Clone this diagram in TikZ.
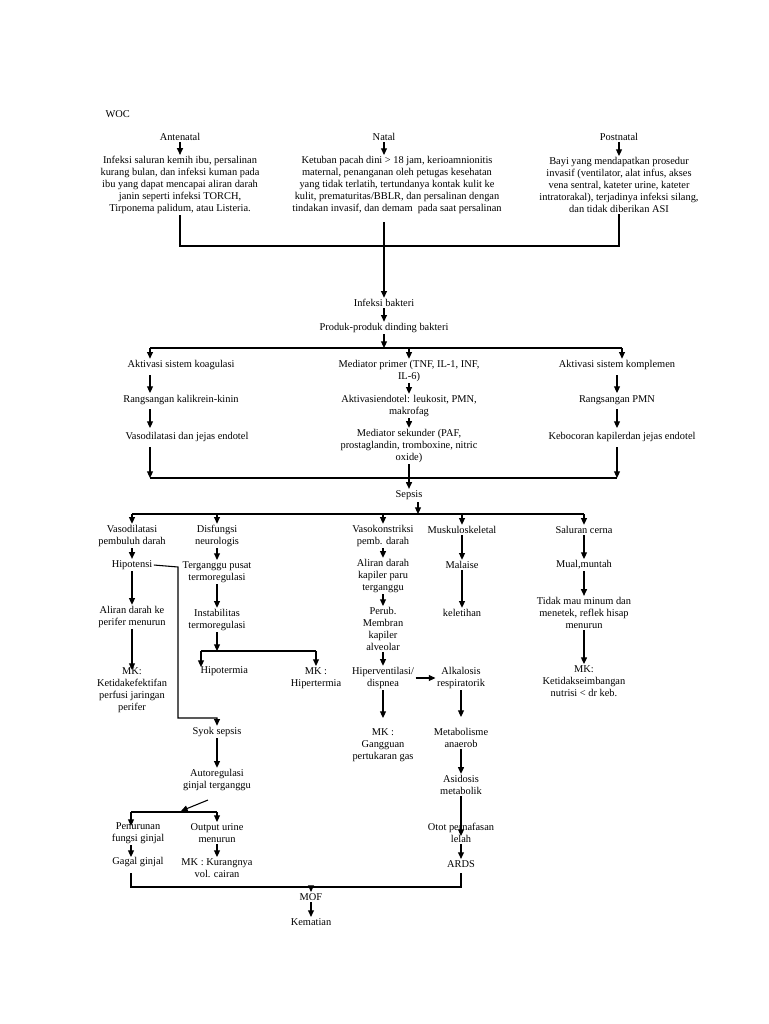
\documentclass[tikz,border=0pt]{standalone}
\usepackage{fontspec}
\setmainfont{Liberation Serif}
\usetikzlibrary{arrows.meta}
\begin{document}
\begin{tikzpicture}[x=0.75pt,y=-0.75pt,
  t/.style={align=center,inner sep=1pt,font=\fontsize{7.8}{8.9}\selectfont},
  arr/.style={-{Triangle[length=5pt,width=4.5pt]},line width=0.8pt},
  ln/.style={line width=0.8pt}]
\useasboundingbox (0,0) rectangle (768,1024);
\node[t,anchor=west] (woc) at (104,114) {WOC};
\node[t] (ant) at (180,137) {Antenatal};
\node[t] (nat) at (384,137) {Natal};
\node[t] (post) at (619,137) {Postnatal};
\node[t] (ia) at (180,185) {Infeksi saluran kemih ibu, persalinan\\kurang bulan, dan infeksi kuman pada\\ibu yang dapat mencapai aliran darah\\janin seperti infeksi TORCH,\\Tirponema palidum, atau Listeria.};
\node[t] (na) at (397,185) {Ketuban pacah dini > 18 jam, kerioamnionitis\\maternal, penanganan oleh petugas kesehatan\\yang tidak terlatih, tertundanya kontak kulit ke\\kulit, prematuritas/BBLR, dan persalinan dengan\\tindakan invasif, dan demam\ \ pada saat persalinan};
\node[t] (pa) at (619,185) {Bayi yang mendapatkan prosedur\\invasif (ventilator, alat infus, akses\\vena sentral, kateter urine, kateter\\intratorakal), terjadinya infeksi silang,\\dan tidak diberikan ASI};
\draw[arr] (ant) -- (ant|-ia.north);
\draw[arr] (nat) -- (nat|-na.north);
\draw[arr] (post) -- (post|-pa.north);
\coordinate (b1) at (180,246); \coordinate (b2) at (619,246);
\draw[ln] (ia.south-|b1) -- (b1) -- (b2) -- (pa.south-|b2);
\node[t] (ib) at (384,303) {Infeksi bakteri};
\draw[arr] (384,222) -- (ib.north);
\node[t] (pd) at (384,328) {Produk-produk dinding bakteri};
\draw[arr] (ib) -- (pd);
\coordinate (h1) at (150,348); \coordinate (h2) at (622,348); \coordinate (hm) at (409,348);
\draw[arr] (pd.south) -- (pd.south|-h1);
\draw[ln] (h1) -- (h2);
\node[t] (k1) at (181,365) {Aktivasi sistem koagulasi};
\node[t] (m1) at (409,371) {Mediator primer (TNF, IL-1, INF,\\IL-6)};
\node[t] (c1) at (617,365) {Aktivasi sistem komplemen};
\draw[arr] (h1) -- (h1|-k1.north);
\draw[arr] (hm) -- (hm|-m1.north);
\draw[arr] (h2) -- (h2|-c1.north);
\node[t] (k2) at (181,400) {Rangsangan kalikrein-kinin};
\node[t] (k3) at (187,437) {Vasodilatasi dan jejas endotel};
\node[t] (m2) at (409,406) {Aktivasiendotel: leukosit, PMN,\\makrofag};
\node[t] (m3) at (409,446) {Mediator sekunder (PAF,\\prostaglandin, tromboxine, nitric\\oxide)};
\node[t] (c2) at (617,400) {Rangsangan PMN};
\node[t] (c3) at (622,437) {Kebocoran kapilerdan jejas endotel};
\draw[arr] (150,375) -- (150,393); \draw[arr] (150,409) -- (150,428);
\draw[arr] (m1) -- (m2); \draw[arr] (m2) -- (m3);
\draw[arr] (617,375) -- (617,393); \draw[arr] (617,409) -- (617,428);
\coordinate (s1) at (150,478); \coordinate (s2) at (617,478);
\draw[arr] (150,447) -- (s1); \draw[arr] (617,447) -- (s2);
\draw[ln] (s1) -- (s2);
\node[t] (sep) at (409,495) {Sepsis};
\draw[arr] (m3.south) -- (m3.south|-sep.north);
\coordinate (r1) at (132,514); \coordinate (r2) at (584,514);
\draw[arr] (418,502) -- (418,514);
\draw[ln] (r1) -- (r2);
\node[t] (a1) at (132,536) {Vasodilatasi\\pembuluh darah};
\node[t] (d1) at (217,536) {Disfungsi\\neurologis};
\node[t] (v1) at (383,536) {Vasokonstriksi\\pemb. darah};
\node[t] (u1) at (462,530) {Muskuloskeletal};
\node[t] (g1) at (584,530) {Saluran cerna};
\foreach \n/\xx in {a1/132,d1/217,v1/383,u1/462,g1/584} {\draw[arr] (\xx,514) -- (\n.north);}
% col1
\node[t] (a2) at (132,565) {Hipotensi};
\node[t] (a3) at (132,617) {Aliran darah ke\\perifer menurun};
\node[t] (a4) at (132,690) {MK:\\Ketidakefektifan\\perfusi jaringan\\perifer};
\draw[arr] (a1) -- (a2); \draw[arr] (a2) -- (a3); \draw[arr] (a3.south) -- (132,670);
\node[t] (sy) at (217,732) {Syok sepsis};
\draw[arr] (a2.east) -- (178,567) -- (178,718) -- (217,718) -- (sy.north);
% col2
\node[t] (d2) at (217,572) {Terganggu pusat\\termoregulasi};
\node[t] (d3) at (217,620) {Instabilitas\\termoregulasi};
\draw[arr] (d1) -- (d2); \draw[arr] (d2) -- (d3);
\coordinate (t1) at (201,651); \coordinate (t2) at (316,651);
\draw[arr] (d3.south) -- (217,651); \draw[ln] (t1) -- (t2);
\node[t,anchor=west] (d4) at (199,671) {Hipotermia};
\node[t] (d5) at (316,678) {MK :\\Hipertermia};
\draw[arr] (t1) -- (201,667); \draw[arr] (t2) -- (d5.north);
% col3
\node[t] (v2) at (383,576) {Aliran darah\\kapiler paru\\terganggu};
\node[t] (v3) at (383,629) {Perub.\\Membran\\kapiler\\alveolar};
\node[t] (v4) at (383,678) {Hiperventilasi/\\dispnea};
\node[t] (v5) at (383,745) {MK :\\Gangguan\\pertukaran gas};
\draw[arr] (v1) -- (v2); \draw[arr] (v2) -- (v3); \draw[arr] (v3) -- (v4); \draw[arr] (v4.south) -- (383,718);
\node[t] (w1) at (461,678) {Alkalosis\\respiratorik};
\draw[arr] (v4.east) -- (w1.west);
\node[t] (w2) at (461,738) {Metabolisme\\anaerob};
\node[t] (w3) at (461,785) {Asidosis\\metabolik};
\node[t] (w4) at (461,833) {Otot pernafasan\\lelah};
\node[t] (w5) at (461,864) {ARDS};
\draw[arr] (w1.south) -- (461,717); \draw[arr] (w2) -- (w3);
\draw[arr] (w3.south) -- (461,836); \draw[arr] (w4) -- (w5);
% col4
\node[t] (u2) at (462,565) {Malaise};
\node[t] (u3) at (462,613) {keletihan};
\draw[arr] (u1) -- (u2); \draw[arr] (u2) -- (u3);
% col5
\node[t] (g2) at (584,565) {Mual,muntah};
\node[t] (g3) at (584,613) {Tidak mau minum dan\\menetek, reflek hisap\\menurun};
\node[t] (g4) at (584,681) {MK:\\Ketidakseimbangan\\nutrisi < dr keb.};
\draw[arr] (g1) -- (g2); \draw[arr] (g2) -- (g3.north); \draw[arr] (g3) -- (g4.north);
% kidney
\node[t] (au) at (217,780) {Autoregulasi\\ginjal terganggu};
\draw[arr] (sy.south) -- (au.north);
\coordinate (j1) at (131,812); \coordinate (j2) at (217,812);
\draw[arr] (208,800) -- (181,811);
\draw[ln] (j1) -- (j2);
\node[t] (p1) at (138,833) {Penurunan\\fungsi ginjal};
\node[t] (o1) at (217,833) {Output urine\\menurun};
\draw[arr] (j1) -- (131,826); \draw[arr] (j2) -- (o1.north);
\node[t] (p2) at (138,862) {Gagal ginjal};
\node[t] (o2) at (217,868) {MK : Kurangnya\\vol. cairan};
\draw[arr] (131,845) -- (131,857); \draw[arr] (o1) -- (o2.north);
\coordinate (f1) at (131,887); \coordinate (f2) at (461,887);
\draw[ln] (131,873) -- (f1) -- (f2) -- (461,873);
\node[t] (mof) at (311,897) {MOF};
\draw[arr] (311,887) -- (mof.north);
\node[t] (ke) at (311,922) {Kematian};
\draw[arr] (mof) -- (ke);
\end{tikzpicture}
\end{document}
